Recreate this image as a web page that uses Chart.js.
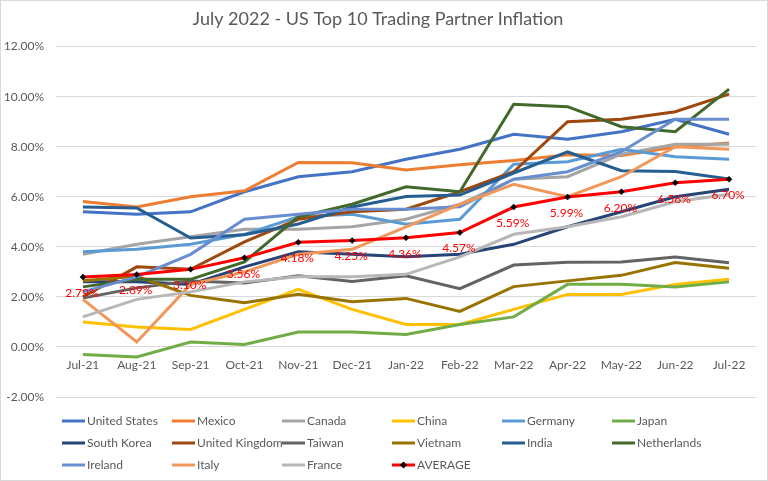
<!DOCTYPE html>
<html>
<head>
<meta charset="utf-8">
<script src="https://cdn.jsdelivr.net/npm/chart.js@4"></script>
<style>
  html, body { margin: 0; padding: 0; background: #fff; }
  #wrap { width: 768px; height: 481px; }
</style>
</head>
<body>
<div id="wrap"><canvas id="inflationChart" width="768" height="481"></canvas></div>
<script>
// Data
const months = ['Jul-21', 'Aug-21', 'Sep-21', 'Oct-21', 'Nov-21', 'Dec-21', 'Jan-22', 'Feb-22', 'Mar-22', 'Apr-22', 'May-22', 'Jun-22', 'Jul-22'];
const yTicks = [-2, 0, 2, 4, 6, 8, 10, 12];

const unitedStates = [5.4, 5.3, 5.4, 6.2, 6.8, 7.0, 7.5, 7.9, 8.5, 8.3, 8.6, 9.1, 8.5];
const mexico = [5.81, 5.59, 6.00, 6.24, 7.37, 7.36, 7.07, 7.28, 7.45, 7.68, 7.65, 7.99, 8.15];
const canada = [3.7, 4.1, 4.4, 4.7, 4.7, 4.8, 5.1, 5.7, 6.7, 6.8, 7.7, 8.1, 8.1];
const china = [1.0, 0.8, 0.7, 1.5, 2.3, 1.5, 0.9, 0.9, 1.5, 2.1, 2.1, 2.5, 2.7];
const germany = [3.8, 3.9, 4.1, 4.5, 5.2, 5.3, 4.9, 5.1, 7.3, 7.4, 7.9, 7.6, 7.5];
const japan = [-0.3, -0.4, 0.2, 0.1, 0.6, 0.6, 0.5, 0.9, 1.2, 2.5, 2.5, 2.4, 2.6];
const southKorea = [2.6, 2.6, 2.5, 3.2, 3.8, 3.7, 3.6, 3.7, 4.1, 4.8, 5.4, 6.0, 6.3];
const unitedKingdom = [2.0, 3.2, 3.1, 4.2, 5.1, 5.4, 5.5, 6.2, 7.0, 9.0, 9.1, 9.4, 10.1];
const taiwan = [1.95, 2.36, 2.63, 2.55, 2.84, 2.62, 2.84, 2.33, 3.27, 3.38, 3.39, 3.59, 3.36];
const vietnam = [2.64, 2.82, 2.06, 1.77, 2.10, 1.81, 1.94, 1.42, 2.41, 2.64, 2.86, 3.37, 3.14];
const india = [5.59, 5.55, 4.35, 4.48, 4.91, 5.59, 6.01, 6.07, 6.95, 7.79, 7.04, 7.01, 6.71];
const netherlands = [2.4, 2.7, 2.7, 3.4, 5.2, 5.7, 6.4, 6.2, 9.7, 9.6, 8.8, 8.6, 10.3];
const ireland = [2.2, 2.8, 3.7, 5.1, 5.3, 5.5, 5.5, 5.6, 6.7, 7.0, 7.8, 9.1, 9.1];
const italy = [1.9, 0.2, 2.5, 3.0, 3.7, 3.9, 4.8, 5.7, 6.5, 6.0, 6.8, 8.0, 7.9];
const france = [1.2, 1.9, 2.2, 2.6, 2.8, 2.8, 2.9, 3.6, 4.5, 4.8, 5.2, 5.8, 6.1];
const average = [2.79, 2.89, 3.10, 3.56, 4.18, 4.25, 4.36, 4.57, 5.59, 5.99, 6.20, 6.56, 6.70];

const FONT = "Lato, 'Liberation Sans', Arial, sans-serif";
const GREY_TEXT = '#595959';

const series = [
  ['United States', unitedStates, '#4472C4'],
  ['Mexico', mexico, '#ED7D31'],
  ['Canada', canada, '#A5A5A5'],
  ['China', china, '#FFC000'],
  ['Germany', germany, '#5B9BD5'],
  ['Japan', japan, '#70AD47'],
  ['South Korea', southKorea, '#264478'],
  ['United Kingdom', unitedKingdom, '#9E480E'],
  ['Taiwan', taiwan, '#636363'],
  ['Vietnam', vietnam, '#997300'],
  ['India', india, '#255E91'],
  ['Netherlands', netherlands, '#43682B'],
  ['Ireland', ireland, '#698ED0'],
  ['Italy', italy, '#F1975A'],
  ['France', france, '#B7B7B7'],
];

const datasets = series.map(([name, values, color], i) => ({
  label: name,
  data: values,
  borderColor: color,
  backgroundColor: color,
  borderWidth: 3,
  pointRadius: 0,
  tension: 0,
  order: 20 - i
}));

datasets.push({
  label: 'AVERAGE',
  data: average,
  borderColor: '#FF0000',
  backgroundColor: '#000000',
  borderWidth: 3,
  pointStyle: 'rectRot',
  pointRadius: 3,
  pointBorderColor: '#000000',
  pointBorderWidth: 0.5,
  tension: 0,
  order: 0
});

// red value labels under the AVERAGE points
const avgLabels = {
  id: 'avgLabels',
  afterDatasetsDraw(chart) {
    const idx = chart.data.datasets.length - 1;
    const meta = chart.getDatasetMeta(idx);
    const c = chart.ctx;
    c.save();
    c.font = '12px ' + FONT;
    c.fillStyle = '#FF0000';
    c.textAlign = 'center';
    c.textBaseline = 'middle';
    meta.data.forEach((pt, i) => {
      c.fillText(average[i].toFixed(2) + '%', pt.x - 1, pt.y + 16);
    });
    c.restore();
  }
};

// grid legend, 6 columns like the original
const gridLegend = {
  id: 'gridLegend',
  afterDraw(chart) {
    const c = chart.ctx;
    c.save();
    c.font = '12px ' + FONT;
    c.textBaseline = 'middle';
    c.textAlign = 'left';
    chart.data.datasets.forEach((ds, i) => {
      const col = i % 6;
      const row = Math.floor(i / 6);
      const x = 62 + col * 110;
      const y = 421 + row * 22;
      c.strokeStyle = ds.borderColor;
      c.lineWidth = 3;
      c.beginPath();
      c.moveTo(x, y);
      c.lineTo(x + 23, y);
      c.stroke();
      if (ds.label === 'AVERAGE') {
        c.fillStyle = '#000';
        c.beginPath();
        c.moveTo(x + 11.5, y - 3.5);
        c.lineTo(x + 15, y);
        c.lineTo(x + 11.5, y + 3.5);
        c.lineTo(x + 8, y);
        c.closePath();
        c.fill();
      }
      c.fillStyle = GREY_TEXT;
      c.fillText(ds.label, x + 25, y);
    });
    c.strokeStyle = '#D9D9D9';
    c.lineWidth = 1;
    c.strokeRect(0.5, 0.5, chart.width - 1, chart.height - 1);
    c.restore();
  }
};

const ctx = document.getElementById('inflationChart').getContext('2d');

new Chart(ctx, {
  type: 'line',
  data: { labels: months, datasets: datasets },
  options: {
    responsive: false,
    animation: false,
    layout: { padding: { left: 0, right: 12, top: 0, bottom: 84 } },
    plugins: {
      legend: { display: false },
      tooltip: { enabled: false },
      title: {
        display: true,
        text: 'July 2022 - US Top 10 Trading Partner Inflation',
        color: GREY_TEXT,
        font: { family: FONT, size: 18, weight: 'normal' },
        padding: { top: 8, bottom: 17 }
      }
    },
    scales: {
      x: {
        position: { y: 0 },
        offset: true,
        grid: { display: false },
        border: { display: false },
        ticks: { color: GREY_TEXT, font: { family: FONT, size: 12 }, padding: 3, maxRotation: 0 }
      },
      y: {
        min: -2,
        max: 12,
        afterFit(scale) { scale.width = 56; },
        afterBuildTicks(scale) { scale.ticks = yTicks.map(v => ({ value: v })); },
        grid: { color: '#D9D9D9', drawTicks: false },
        border: { display: false },
        ticks: {
          color: GREY_TEXT,
          font: { family: FONT, size: 12 },
          padding: 12,
          callback: v => v.toFixed(2) + '%'
        }
      }
    }
  },
  plugins: [avgLabels, gridLegend]
});
</script>
</body>
</html>
